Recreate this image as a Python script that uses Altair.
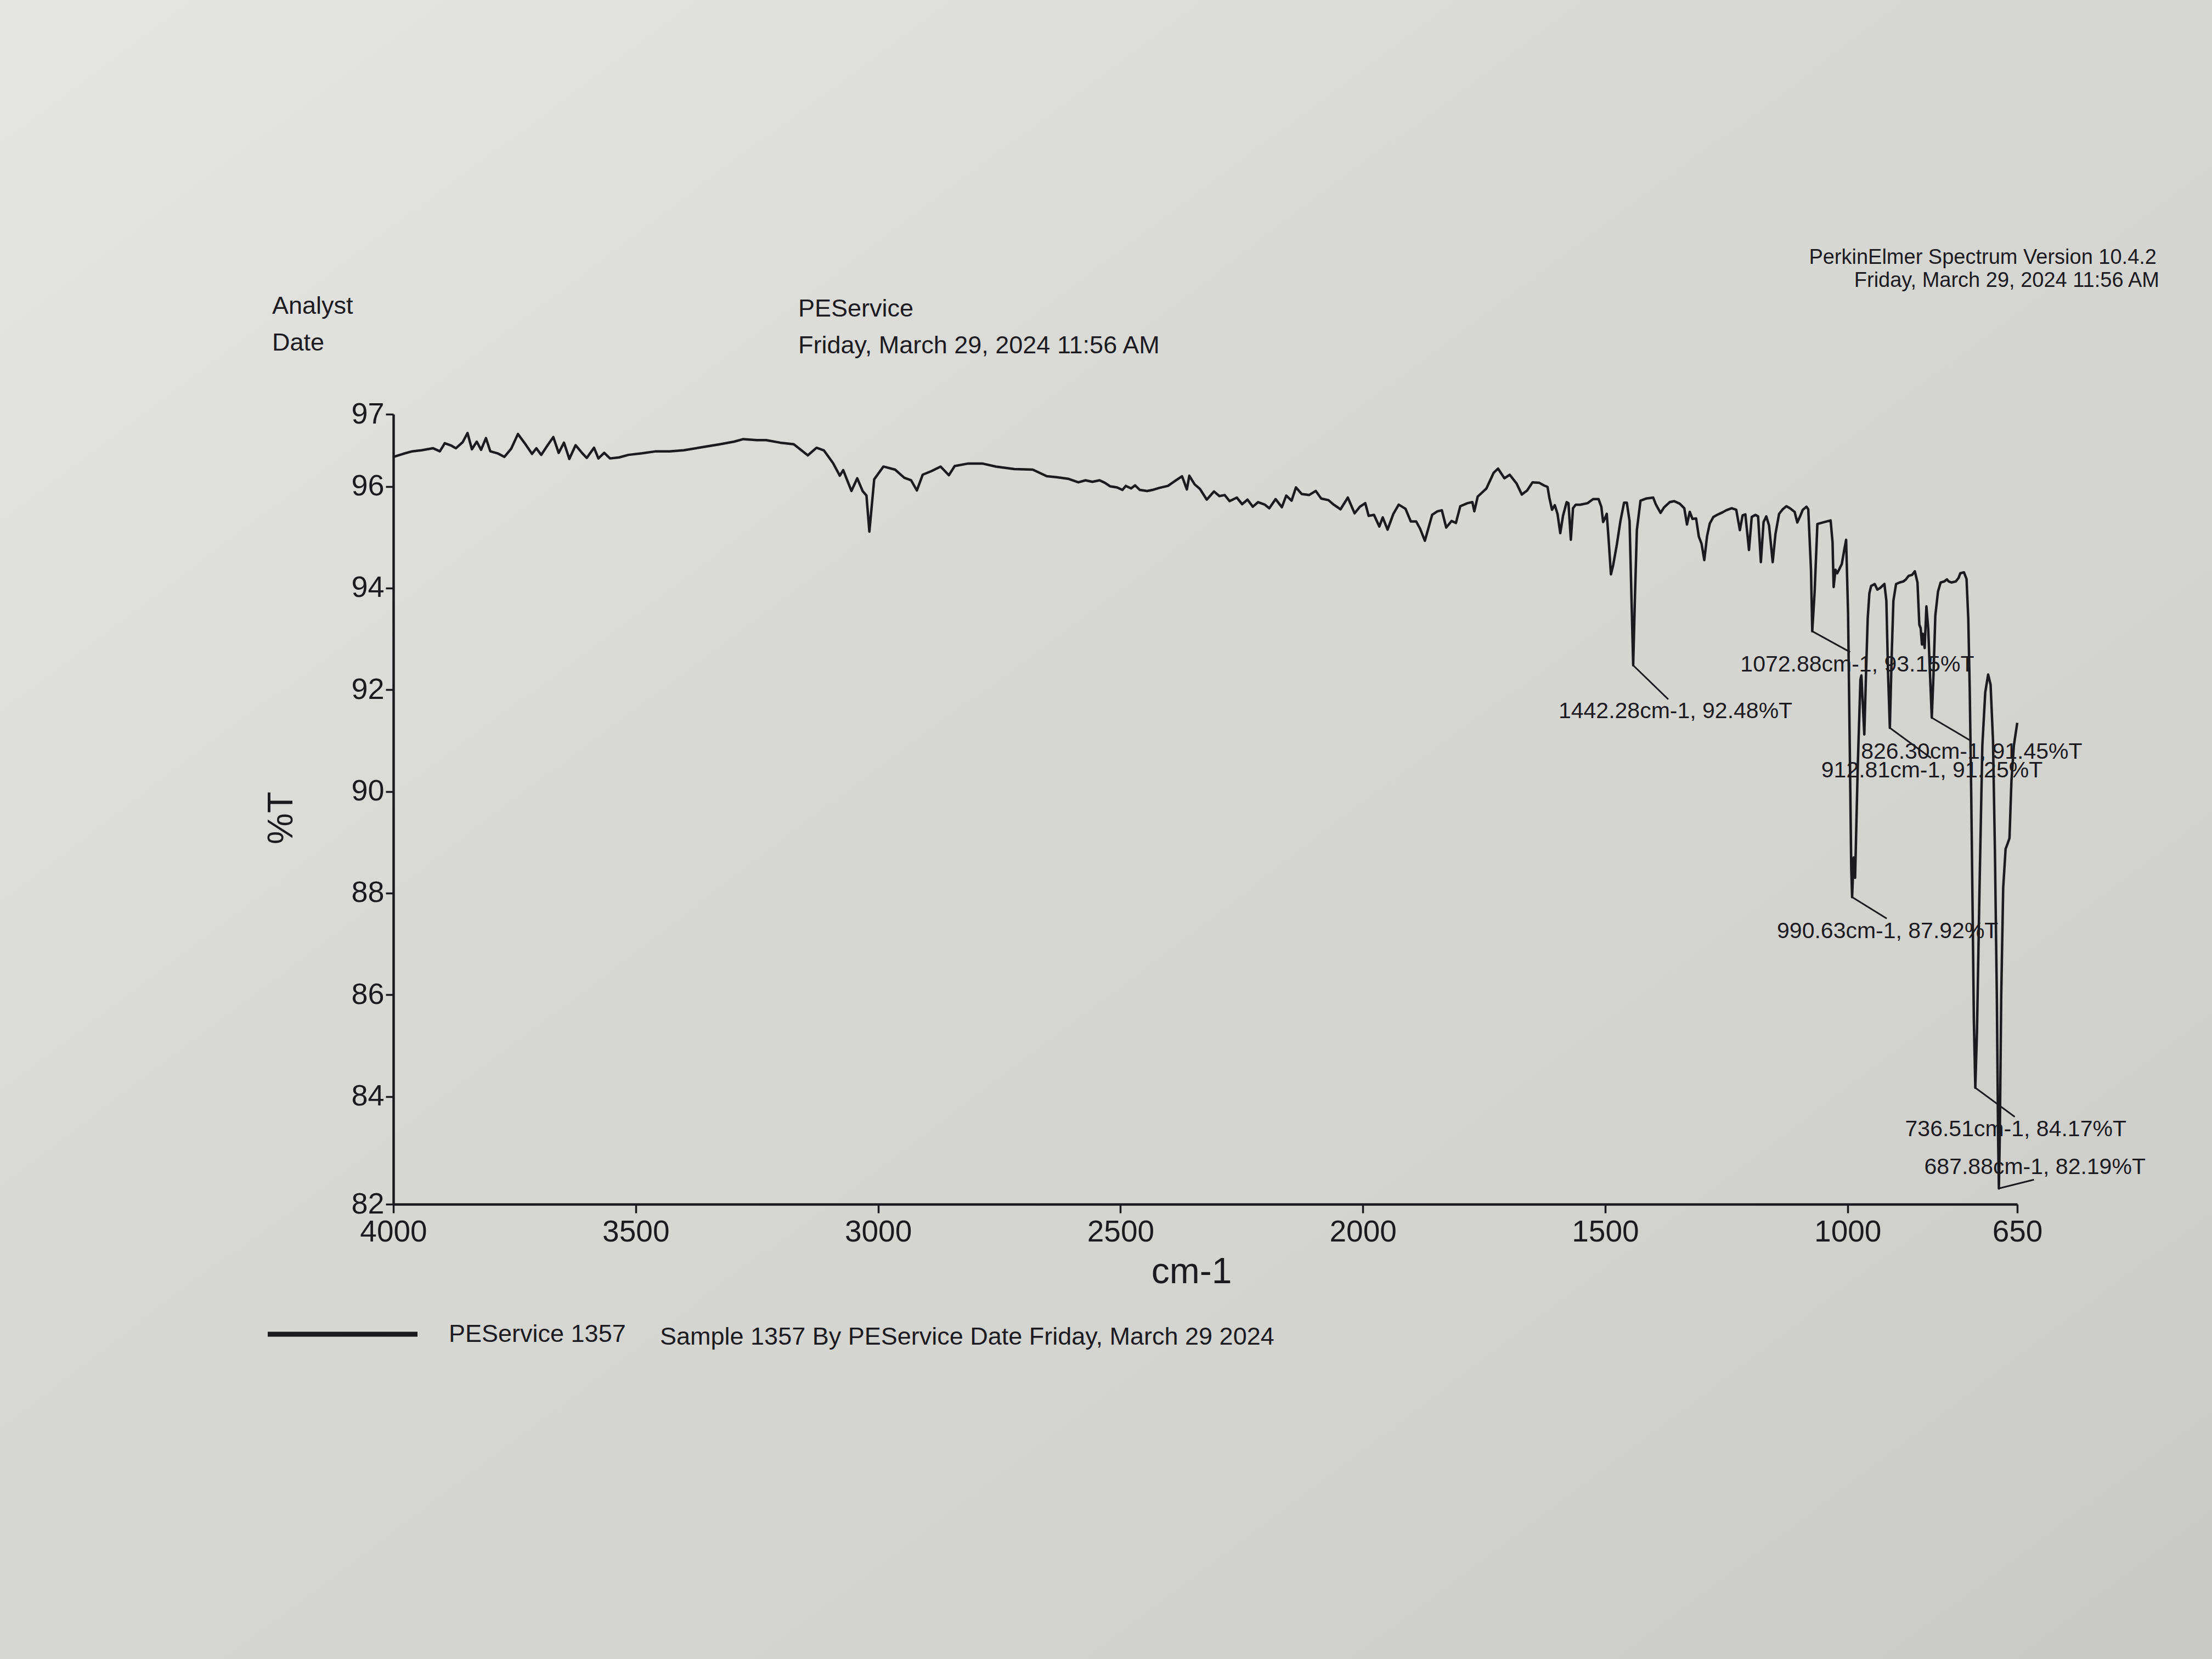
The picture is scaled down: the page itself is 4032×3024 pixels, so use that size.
import altair as alt
import pandas as pd

# ---------------- data ----------------
spec_wn = [
    4000, 3980, 3961, 3942, 3918, 3904, 3894, 3880, 3871, 3857, 3847, 3838, 3828, 3819, 3809, 3800,
    3785, 3771, 3757, 3743, 3729, 3714, 3705, 3695, 3681, 3670, 3659, 3648, 3637, 3624, 3610, 3601,
    3586, 3577, 3565, 3553, 3534, 3515, 3487, 3458, 3430, 3401, 3364, 3326, 3297, 3278, 3250, 3231,
    3202, 3174, 3145, 3127, 3112, 3093, 3079, 3072, 3055, 3043, 3032, 3024, 3018, 3008, 2989, 2965,
    2946, 2932, 2920, 2908, 2890, 2871, 2854, 2842, 2814, 2785, 2757, 2719, 2681,
    2652, 2630, 2608, 2587, 2572, 2558, 2543, 2532, 2521, 2507, 2496, 2489, 2478, 2470, 2460, 2445,
    2434, 2420, 2402, 2387, 2373, 2363, 2358, 2347, 2336, 2322, 2307, 2296, 2285, 2275, 2260, 2249,
    2238, 2227, 2216, 2202, 2193, 2180, 2167, 2158, 2147, 2138, 2126, 2111, 2097, 2086, 2071, 2060,
    2046, 2031, 2017, 2006, 1995, 1988, 1977, 1966, 1959, 1949, 1937, 1926, 1912, 1901, 1890, 1882,
    1872, 1857, 1846, 1837, 1828, 1817, 1808, 1799, 1784, 1774, 1770, 1763, 1745, 1730, 1721, 1708,
    1697, 1683, 1672, 1661, 1650, 1636,
    1626.6, 1619, 1615.3, 1609.7, 1604, 1598.4, 1592.7, 1587.1, 1579.6, 1575.8, 1570.9, 1566.4,
    1560.8, 1551.4, 1536.3, 1525, 1513.7, 1508, 1504.3, 1500.6, 1496.8, 1493, 1488.2, 1483.6,
    1476.1, 1468.6, 1461.1, 1455.4, 1449.8, 1446, 1442.28, 1438.5, 1434.7, 1427.2, 1415.9, 1401,
    1395.3, 1385.8, 1378.3, 1367, 1357.6, 1346.3, 1336.9, 1331.3, 1325.6, 1320, 1312.5, 1306.8,
    1301.2, 1295.6, 1289.9, 1284.3, 1276.7, 1269.2, 1257.9, 1250.4, 1239.1, 1229.7, 1222.2, 1216.6,
    1210.9, 1203.4, 1197.7, 1190.2, 1184.6, 1178.9, 1173.3, 1167.7, 1162, 1154.5, 1148.8, 1141.3,
    1133.8, 1126.2, 1118.7, 1109.3, 1103.7, 1098, 1092.4, 1084.9, 1081.1, 1075.5, 1072.88, 1068,
    1062.3, 1047, 1035,
    1031, 1028.8, 1025, 1021.4, 1017.7, 1012, 1006.7, 1003, 999, 995, 992.5, 990.63, 987.5, 984.5,
    979, 973.5, 971.5, 968.5, 965.5, 962, 958.5, 955, 951.5, 944, 938.6, 933, 924, 920, 916.5,
    912.81, 909, 905.5, 900, 892.6, 885, 879.7, 874, 866.9, 861.3, 855.8, 852, 849.2, 846.6, 844.8,
    841, 837.4, 833.7, 830, 826.3, 822.7, 819, 813.5, 808, 800.6, 795, 791.4, 785.9, 776.7, 771,
    767.5, 760, 754.6, 751, 748, 745, 742, 739.5, 736.51, 733, 728, 722, 716, 710, 705, 700, 696,
    692, 689.5, 687.88, 686, 683, 679, 674, 670, 666, 662, 657, 650,
]
spec_t = [
    96.58, 96.64, 96.69, 96.71, 96.75, 96.69, 96.85, 96.80, 96.75, 96.87, 97.05, 96.73, 96.88, 96.72, 96.95, 96.69,
    96.65, 96.58, 96.74, 97.03, 96.85, 96.64, 96.75, 96.62, 96.82, 96.97, 96.66, 96.86, 96.54, 96.81, 96.65, 96.56,
    96.76, 96.55, 96.66, 96.55, 96.57, 96.62, 96.65, 96.69, 96.69, 96.71, 96.77, 96.83, 96.88, 96.93, 96.91, 96.91,
    96.86, 96.83, 96.61, 96.76, 96.71, 96.46, 96.21, 96.32, 95.91, 96.16, 95.91, 95.82, 95.11, 96.14, 96.39, 96.33,
    96.17, 96.12, 95.92, 96.23, 96.30, 96.39, 96.22, 96.40, 96.45, 96.45, 96.39, 96.34, 96.33,
    96.20, 96.18, 96.15, 96.08, 96.12, 96.09, 96.12, 96.07, 96.00, 95.98, 95.93, 96.01, 95.96, 96.02, 95.93, 95.91,
    95.93, 95.97, 96.01, 96.11, 96.20, 95.94, 96.21, 96.04, 95.95, 95.74, 95.90, 95.81, 95.83, 95.71, 95.78, 95.65,
    95.74, 95.60, 95.69, 95.64, 95.57, 95.75, 95.59, 95.82, 95.72, 95.98, 95.85, 95.83, 95.91, 95.76, 95.73, 95.64,
    95.55, 95.78, 95.47, 95.60, 95.67, 95.42, 95.44, 95.21, 95.39, 95.15, 95.46, 95.64, 95.56, 95.31, 95.31, 95.17,
    94.93, 95.44, 95.51, 95.53, 95.19, 95.32, 95.28, 95.61, 95.67, 95.69, 95.51, 95.80, 95.96, 96.27, 96.35, 96.16,
    96.23, 96.06, 95.84, 95.92, 96.08, 96.07,
    96.02, 95.99, 95.78, 95.54, 95.63, 95.46, 95.08, 95.42, 95.69, 95.67, 94.95, 95.57,
    95.64, 95.64, 95.67, 95.75, 95.75, 95.60, 95.30, 95.37, 95.46, 94.96, 94.27, 94.45,
    94.85, 95.32, 95.68, 95.68, 95.32, 93.88, 92.48, 93.88, 95.14, 95.72, 95.76, 95.78,
    95.64, 95.48, 95.59, 95.69, 95.71, 95.66, 95.57, 95.25, 95.50, 95.36, 95.37, 95.01,
    94.87, 94.55, 95.02, 95.27, 95.40, 95.44, 95.49, 95.53, 95.57, 95.54, 95.14, 95.43,
    95.45, 94.75, 95.40, 95.44, 95.41, 94.51, 95.30, 95.41, 95.23, 94.51, 95.06, 95.46,
    95.55, 95.61, 95.57, 95.50, 95.29, 95.41, 95.54, 95.60, 95.55, 94.36, 93.15, 93.92,
    95.26, 95.30, 95.33,
    94.90, 94.02, 94.36, 94.29, 94.36, 94.47, 94.76, 94.95, 93.50, 90.50, 88.50, 87.92, 88.70, 88.30,
    90.50, 92.20, 92.28, 91.70, 91.12, 92.30, 93.40, 93.90, 94.04, 94.08, 93.97, 94.00, 94.08, 93.75, 92.31,
    91.25, 92.67, 93.75, 94.08, 94.11, 94.13, 94.17, 94.24, 94.26, 94.33, 94.11, 93.28, 93.21, 92.89, 93.10,
    92.82, 93.64, 93.21, 92.31, 91.45, 92.31, 93.46, 93.93, 94.11, 94.13, 94.17, 94.13, 94.11, 94.13, 94.20,
    94.29, 94.31, 94.18, 93.40, 92.00, 90.00, 87.60, 85.50, 84.17, 85.30, 88.00, 90.90, 91.95, 92.30, 92.10, 91.00, 88.80,
    85.90, 83.20, 82.19, 83.20, 86.00, 88.10, 88.87, 88.97, 89.08, 90.20, 90.90, 91.35,
]

peak_wn = [1442.28, 1072.88, 990.63, 912.81, 826.30, 736.51, 687.88]
peak_t = [92.48, 93.15, 87.92, 91.25, 91.45, 84.17, 82.19]

x_ticks = [4000, 3500, 3000, 2500, 2000, 1500, 1000, 650]
y_ticks = [81.88, 84, 86, 88, 90, 92, 94, 96, 97.42]

# ---------------- layout / style ----------------
W, H = 2960, 1440
PAD = {"left": 717, "top": 755, "right": 355, "bottom": 829}
X_LO, X_HI = 650, 4000
Y_LO, Y_HI = 81.88, 97.42
FONT = "Liberation Sans"
INK = "#1a1a1f"
PAPER = "#d7d7d4"

# leader line offsets (px, right/down) and label offsets from the leader end
leader_px = [(64, 62), (69, 38), (63, 39), (75, 55), (71, 42), (72, 53), (64, -16)]
label_dy = [22, 23, 24, 23, 21, 23, -22]
LABEL_DX = -200

kx = (X_HI - X_LO) / W
ky = (Y_HI - Y_LO) / H

rows = []
for wn, t, (lx, ly), tdy in zip(peak_wn, peak_t, leader_px, label_dy):
    wn_end = wn - lx * kx
    t_end = t - ly * ky
    rows.append({
        "wn": wn, "t": t, "wn_end": wn_end, "t_end": t_end,
        "wn_lab": wn_end - LABEL_DX * kx, "t_lab": t_end - tdy * ky,
        "label": f"{wn:.2f}cm-1, {t:.2f}%T",
    })
peaks = pd.DataFrame(rows)
spec = pd.DataFrame({"wn": spec_wn, "t": spec_t})

x_scale = alt.Scale(domain=[X_LO, X_HI], reverse=True, nice=False, zero=False)
y_scale = alt.Scale(domain=[Y_LO, Y_HI], nice=False, zero=False)
x_axis = alt.Axis(values=x_ticks, format="d", title=None, grid=False, labelFlush=False,
                  labelOverlap=False, tickSize=16, labelPadding=8, labelFontSize=55, zindex=2)
y_axis = alt.Axis(values=y_ticks, labelExpr="format(datum.value, '.0f')", title=None, grid=False,
                  labelFlush=False, labelOverlap=False, tickSize=14, labelPadding=3, labelFontSize=54,
                  zindex=2)

X = alt.X("wn:Q", scale=x_scale, axis=x_axis)
Y = alt.Y("t:Q", scale=y_scale, axis=y_axis)

# photographed-paper shading behind everything
paper = alt.Chart(pd.DataFrame({"k": [0]})).mark_rect(
    fill=alt.LinearGradient(
        gradient="linear",
        stops=[
            alt.GradientStop(color="#e6e6e4", offset=0),
            alt.GradientStop(color="#d8d8d5", offset=0.4),
            alt.GradientStop(color="#d3d3d0", offset=0.7),
            alt.GradientStop(color="#c9c9c6", offset=1),
        ],
        x1=0, y1=0, x2=1, y2=1,
    )
).encode(
    x=alt.value(-PAD["left"]), x2=alt.value(W + PAD["right"]),
    y=alt.value(-PAD["top"]), y2=alt.value(H + PAD["bottom"]),
)

line = alt.Chart(spec).mark_line(color=INK, strokeWidth=4.5, strokeJoin="round").encode(x=X, y=Y)

leaders = alt.Chart(peaks).mark_rule(color=INK, strokeWidth=3).encode(
    x=X, y=Y, x2="wn_end:Q", y2="t_end:Q")

peak_labels = alt.Chart(peaks).mark_text(
    align="left", baseline="middle", font=FONT, fontSize=41, color=INK
).encode(
    x=alt.X("wn_lab:Q", scale=x_scale, axis=x_axis),
    y=alt.Y("t_lab:Q", scale=y_scale, axis=y_axis),
    text="label:N",
)


def note(text, x, y, size, align="left", angle=0):
    return alt.Chart(pd.DataFrame({"label": [text]})).mark_text(
        align=align, baseline="middle", font=FONT, fontSize=size, color=INK, angle=angle
    ).encode(x=alt.value(x), y=alt.value(y), text="label:N")


notes = [
    note("Analyst", -221, -197, 45),
    note("Date", -221, -130, 45),
    note("PEService", 738, -192, 45),
    note("Friday, March 29, 2024 11:56 AM", 738, -125, 45),
    note("PerkinElmer Spectrum Version 10.4.2", 3214, -285, 38, align="right"),
    note("Friday, March 29, 2024 11:56 AM", 3219, -243, 38, align="right"),
    note("%T", -203, 736, 64, align="center", angle=270),
    note("cm-1", 1455, 1564, 66, align="center"),
    note("PEService 1357", 101, 1677, 45),
    note("Sample 1357 By PEService Date Friday, March 29 2024", 486, 1682, 45),
]

legend_line = alt.Chart(pd.DataFrame({"k": [0]})).mark_rule(color=INK, strokeWidth=9).encode(
    x=alt.value(-229), x2=alt.value(44), y=alt.value(1677))

chart = alt.layer(paper, line, leaders, peak_labels, legend_line, *notes).properties(
    width=W,
    height=H,
    padding=PAD,
    autosize=alt.AutoSizeParams(type="none"),
    background=PAPER,
).configure_view(strokeWidth=0).configure_axis(
    domainColor=INK, domainWidth=4.5, tickColor=INK, tickWidth=3.5,
    labelFont=FONT, labelColor=INK,
)

chart.save("out.html", embed_options={"renderer": "svg", "actions": False})
